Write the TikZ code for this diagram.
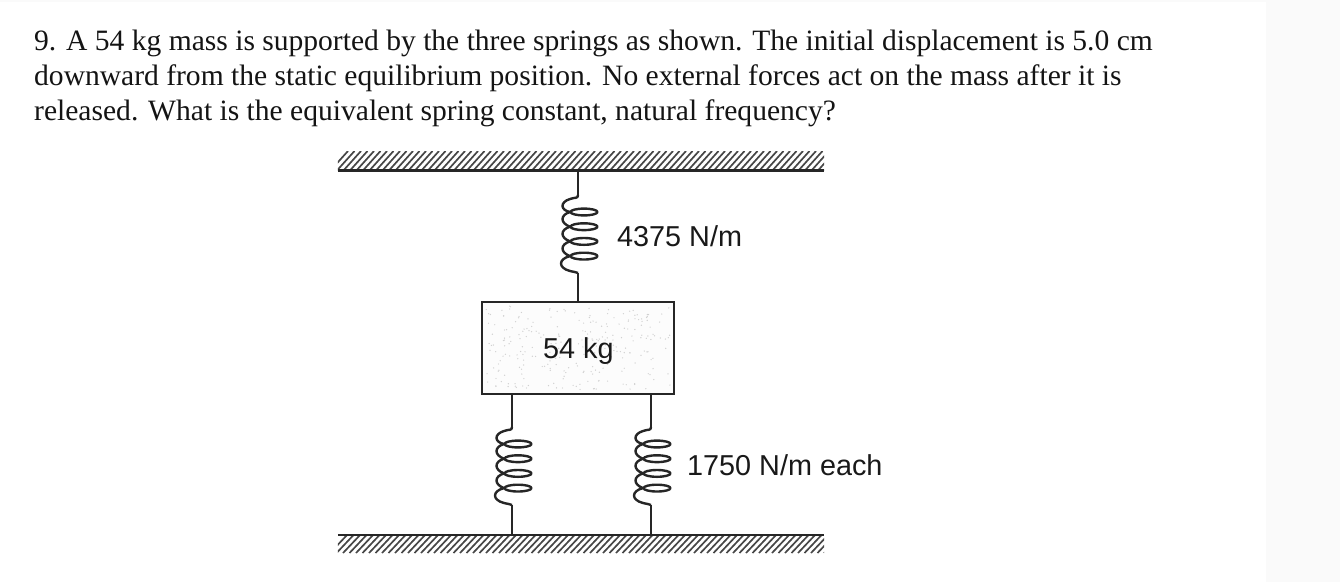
\documentclass[tikz,border=0pt]{standalone}
\usepackage{fontspec}
\setmainfont{Liberation Serif}
\newfontfamily\labelfont{Liberation Sans}
\tikzset{
  wire/.style={draw=black!85,line width=2.4pt,line join=round},
  hatchline/.style={draw=black!72,line width=1.7pt},
  groundline/.style={draw=black!85,line width=2.6pt},
  question/.style={anchor=base west,inner sep=0pt,text=black!92,font=\fontsize{29.55}{34}\selectfont},
  dimlabel/.style={anchor=base west,inner sep=0pt,text=black!90,font=\labelfont\fontsize{28.8}{32}\selectfont},
  wall/.style={inner sep=0pt,minimum width=486pt,minimum height=18pt},
  massbox/.style={draw=black!85,line width=2.4pt,fill=black!1,inner sep=0pt,minimum width=192pt,minimum height=92pt},
  pics/coil/.style={code={
    \coordinate (-top) at (0,0);
    \coordinate (-bot) at (0,78);
    \draw[wire] (0,0) .. controls (0,4) and (-3,2) .. (-8,4) .. controls (-18,7) and (-18,15) .. (-8,17);
    \foreach \k in {0,1,2}{
      \draw[wire] (-8,{17+14.7*\k}) .. controls (-18,{20+14.7*\k}) and (-18,{28+14.7*\k}) .. (-8,{31.7+14.7*\k});
    }
    \draw[wire] (-8,61.1) .. controls (-20,64) and (-20,73) .. (-8,76) .. controls (-4,77) and (-2,77) .. (0,78);
    \foreach \k in {0,1,2,3}{
      \draw[wire] (6,{17+14.7*\k}) ellipse [x radius=13.5,y radius=3.4];
    }
  }}
}
\begin{document}
\begin{tikzpicture}[x=1pt,y=-1pt]
\useasboundingbox (0,0) rectangle (1340,582);
\fill[white] (0,0) rectangle (1340,582);
\fill[black!2] (1266,0) rectangle (1340,582);
\fill[black!2] (0,0) rectangle (1266,2);

\node[question] (l1) at (34,50) {9. A 54 kg mass is supported by the three springs as shown. The initial displacement is 5.0 cm};
\node[question] (l2) at (34,85) {downward from the static equilibrium position. No external forces act on the mass after it is};
\node[question] (l3) at (34,120) {released. What is the equivalent spring constant, natural frequency?};

% ceiling
\node[wall] (ceiling) at (581,161) {};
\begin{scope}
  \clip (ceiling.north west) rectangle (ceiling.south east);
  \foreach \x in {330,336.5,...,840}{
    \draw[hatchline] (\x,171) -- (\x+18,151);
  }
\end{scope}
\draw[groundline] (ceiling.south west) -- (ceiling.south east);

% floor
\node[wall] (floor) at (581,544) {};
\begin{scope}
  \clip (floor.north west) rectangle (floor.south east);
  \foreach \x in {330,336.5,...,840}{
    \draw[hatchline] (\x,553) -- (\x+18,534);
  }
\end{scope}
\draw[groundline] (floor.north west) -- (floor.north east);

% mass
\node[massbox] (mass) at (578,348) {};
\pgfmathsetseed{54}
\begin{scope}
  \clip (mass.south west) rectangle (mass.north east);
  \foreach \i in {1,...,260}{
    \pgfmathsetmacro{\px}{486+rnd*184}
    \pgfmathsetmacro{\py}{306+rnd*84}
    \fill[black!18] (\px,\py) circle (0.7);
  }
\end{scope}
\node[dimlabel] (masslabel) at (543,358) {54 kg};

% springs
\pic (s1) at (578,195) {coil};
\pic (s2) at (512,427) {coil};
\pic (s3) at (651,427) {coil};

\draw[wire] (s1-top |- ceiling.south) -- (s1-top);
\draw[wire] (s1-bot) -- (s1-bot |- mass.north);
\draw[wire] (s2-top |- mass.south) -- (s2-top);
\draw[wire] (s2-bot) -- (s2-bot |- floor.north);
\draw[wire] (s3-top |- mass.south) -- (s3-top);
\draw[wire] (s3-bot) -- (s3-bot |- floor.north);

\node[dimlabel] (k1) at (617,246) {4375 N/m};
\node[dimlabel] (k2) at (687,475) {1750 N/m each};
\end{tikzpicture}
\end{document}
